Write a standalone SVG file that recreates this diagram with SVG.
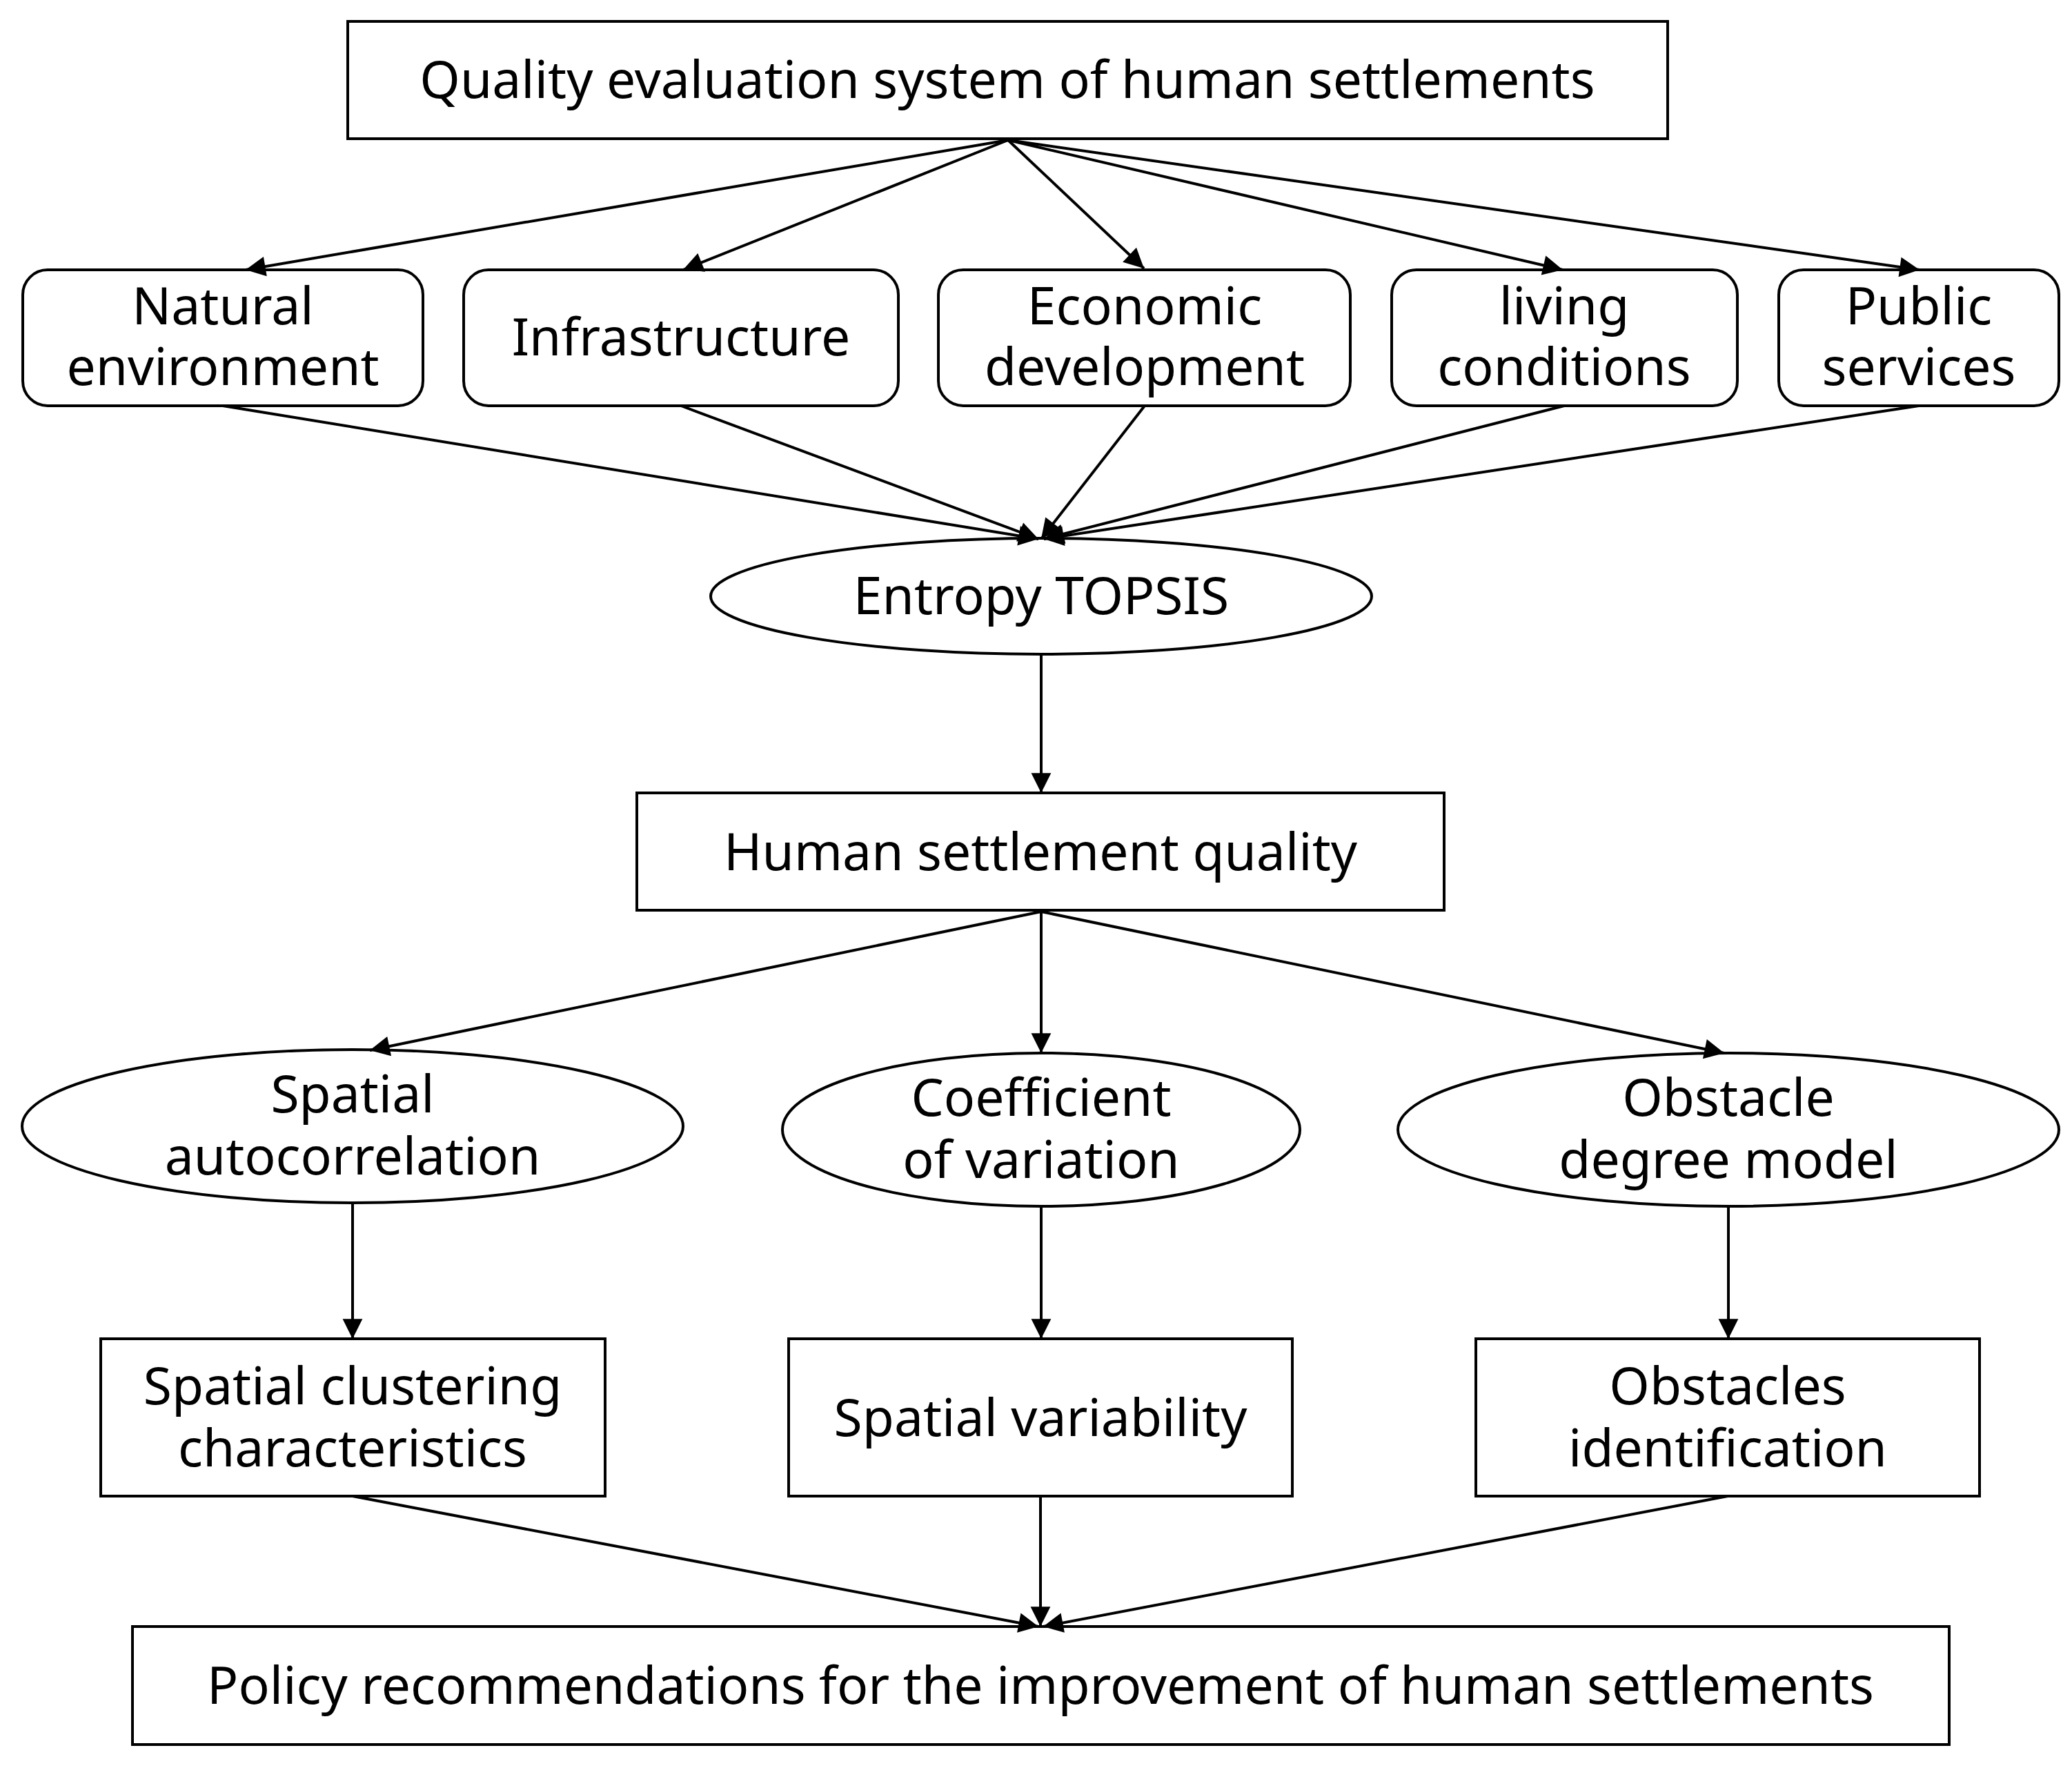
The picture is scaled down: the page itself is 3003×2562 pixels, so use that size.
<svg xmlns="http://www.w3.org/2000/svg" width="3003" height="2562" viewBox="0 0 3003 2562">
<style>
.b{fill:#fff;stroke:#000;stroke-width:4}
text{font-family:"Noto Sans","DejaVu Sans",sans-serif;font-size:75px;text-anchor:middle;fill:#000}
.c line{stroke:#000;stroke-width:4;marker-end:url(#a)}
</style>
<defs><marker id="a" viewBox="0 0 10 10" refX="10" refY="5" markerWidth="8" markerHeight="8" markerUnits="userSpaceOnUse" orient="auto" style="overflow:visible"><path d="M0,0L10,5L0,10z" transform="scale(3.6)translate(-7.2,-3.6)"/></marker></defs>
<rect width="3003" height="2562" fill="#fff"/>
<g id="top"><rect class="b" x="504" y="31" width="1913" height="170"/><text x="1460" y="142">Quality evaluation system of human settlements</text></g>
<g id="nat"><rect class="b" x="33" y="391" width="580" height="197" rx="36"/><text x="323" y="470">Natural</text><text x="323" y="558">environment</text></g>
<g id="inf"><rect class="b" x="672" y="391" width="630" height="197" rx="36"/><text x="987" y="515">Infrastructure</text></g>
<g id="eco"><rect class="b" x="1360" y="391" width="597" height="197" rx="36"/><text x="1659" y="470">Economic</text><text x="1659" y="558">development</text></g>
<g id="liv"><rect class="b" x="2017" y="391" width="501" height="197" rx="36"/><text x="2267" y="470">living</text><text x="2267" y="558">conditions</text></g>
<g id="pub"><rect class="b" x="2578" y="391" width="406" height="197" rx="36"/><text x="2781" y="470">Public</text><text x="2781" y="558">services</text></g>
<g id="ent"><ellipse class="b" cx="1509" cy="864" rx="479" ry="84"/><text x="1509" y="890">Entropy TOPSIS</text></g>
<g id="hsq"><rect class="b" x="923" y="1149" width="1170" height="170"/><text x="1508" y="1261">Human settlement quality</text></g>
<g id="sa"><ellipse class="b" cx="511" cy="1632" rx="479" ry="111"/><text x="511" y="1612">Spatial</text><text x="511" y="1702">autocorrelation</text></g>
<g id="cv"><ellipse class="b" cx="1509" cy="1637" rx="375" ry="111"/><text x="1509" y="1617">Coefficient</text><text x="1509" y="1707">of variation</text></g>
<g id="od"><ellipse class="b" cx="2505" cy="1637" rx="479" ry="111"/><text x="2505" y="1617">Obstacle</text><text x="2505" y="1707">degree model</text></g>
<g id="scc"><rect class="b" x="146" y="1940" width="731" height="228"/><text x="511" y="2035">Spatial clustering</text><text x="511" y="2125">characteristics</text></g>
<g id="sv"><rect class="b" x="1143" y="1940" width="730" height="228"/><text x="1508" y="2081">Spatial variability</text></g>
<g id="oi"><rect class="b" x="2139" y="1940" width="730" height="228"/><text x="2504" y="2035">Obstacles</text><text x="2504" y="2125">identification</text></g>
<g id="pol"><rect class="b" x="192" y="2357" width="2633" height="171"/><text x="1508" y="2469">Policy recommendations for the improvement of human settlements</text></g>
<g class="c">
<line x1="1461" y1="203" x2="356" y2="391"/>
<line x1="1461" y1="203" x2="990" y2="391"/>
<line x1="1461" y1="203" x2="1658" y2="389"/>
<line x1="1461" y1="203" x2="2265" y2="391"/>
<line x1="1461" y1="203" x2="2782" y2="391"/>
<line x1="323" y1="588" x2="1505" y2="781"/>
<line x1="987" y1="588" x2="1505" y2="781"/>
<line x1="1659" y1="588" x2="1509" y2="781"/>
<line x1="2267" y1="588" x2="1513" y2="781"/>
<line x1="2781" y1="588" x2="1513" y2="781"/>
<line x1="1509" y1="948" x2="1509" y2="1149"/>
<line x1="1509" y1="1321" x2="536" y2="1522"/>
<line x1="1509" y1="1321" x2="1509" y2="1526"/>
<line x1="1509" y1="1321" x2="2499" y2="1526"/>
<line x1="511" y1="1743" x2="511" y2="1940"/>
<line x1="1509" y1="1748" x2="1509" y2="1940"/>
<line x1="2505" y1="1748" x2="2505" y2="1940"/>
<line x1="511" y1="2168" x2="1505" y2="2357"/>
<line x1="1508" y1="2168" x2="1508" y2="2357"/>
<line x1="2504" y1="2168" x2="1512" y2="2357"/>
</g>
</svg>
